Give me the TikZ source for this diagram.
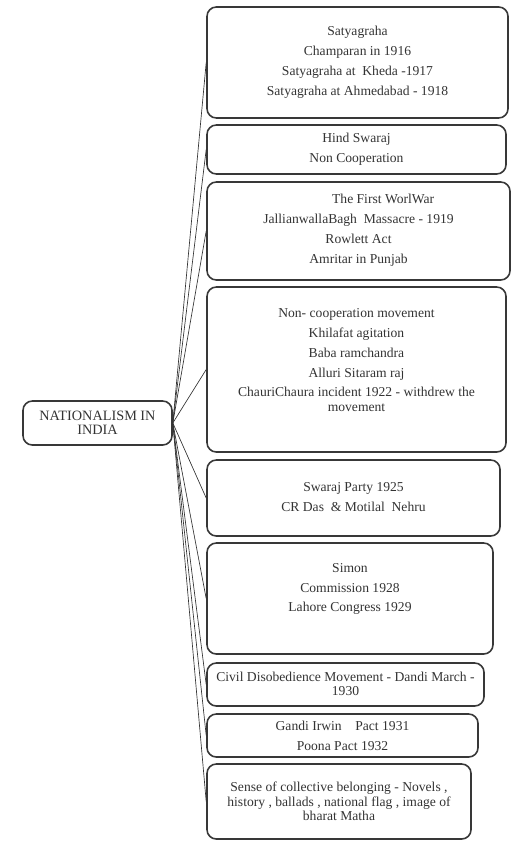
\documentclass[tikz,border=0pt]{standalone}
\usepackage{fontspec}
\setmainfont{Liberation Serif}
\usetikzlibrary{fit}
\begin{document}
\begin{tikzpicture}[x=0.75pt,y=-0.75pt,
  box/.style={draw=black!78, line width=1.2pt, rounded corners=7pt, inner sep=0pt},
  txt/.style={align=center, font=\fontsize{10.2}{10.9}\selectfont, text=black!80, inner sep=0pt},
  link/.style={draw=black!80, line width=0.5pt}]
\useasboundingbox (0,0) rectangle (527,845);
% root
\node[box, fit={(23,401) (172,445)}] (root) {};
\node[txt, font=\fontsize{10.7}{10.7}\selectfont] (troot) at (97.5,423) {NATIONALISM IN\\INDIA};
% branch boxes
\node[box, fit={(207,7) (508,118)}] (b1) {};
\node[box, fit={(207,125) (506,174)}] (b2) {};
\node[box, fit={(207,182) (510,280)}] (b3) {};
\node[box, fit={(207,287) (506,452)}] (b4) {};
\node[box, fit={(207,460) (500,536)}] (b5) {};
\node[box, fit={(207,543) (493,654)}] (b6) {};
\node[box, fit={(207,663) (484,706)}] (b7) {};
\node[box, fit={(207,714) (478,757)}] (b8) {};
\node[box, fit={(207,764) (471,839)}] (b9) {};
% texts
\node[txt] (t1) at (357.5,62.5) {Satyagraha\\[4pt]Champaran in 1916\\[4pt]Satyagraha at\enspace Kheda -1917\\[4pt]Satyagraha at Ahmedabad - 1918};
\node[txt] (t2) at (356.5,149.5) {Hind Swaraj\\[4pt]Non Cooperation};
\node[txt] (t3) at (358.5,230.5) {\hspace*{37pt}The First WorlWar\\[4pt]JallianwallaBagh\enspace Massacre - 1919\\[4pt]Rowlett Act\\[4pt]Amritar in Punjab};
\node[txt] (t4) at (356.5,360) {Non- cooperation movement\\[4pt]Khilafat agitation\\[4pt]Baba ramchandra\\[4pt]Alluri Sitaram raj\\[4pt]ChauriChaura incident 1922 - withdrew the\\movement};
\node[txt] (t5) at (353.5,497) {Swaraj Party 1925\\[4pt]CR Das\enspace \& Motilal\enspace Nehru};
\node[txt] (t6) at (350,589) {Simon\\[4pt]Commission 1928\\[4pt]Lahore Congress 1929};
\node[txt] (t7) at (345.5,684) {Civil Disobedience Movement - Dandi March -\\1930};
\node[txt] (t8) at (342.5,736) {Gandi Irwin\enspace\enspace Pact 1931\\[4pt]Poona Pact 1932};
\node[txt] (t9) at (339,801.5) {Sense of collective belonging - Novels ,\\history , ballads , national flag , image of\\bharat Matha};
% connectors
\foreach \b in {b1,b2,b3,b4,b5,b6,b7,b8,b9}
  \draw[link] (root.east) -- (\b.west);
\end{tikzpicture}
\end{document}
